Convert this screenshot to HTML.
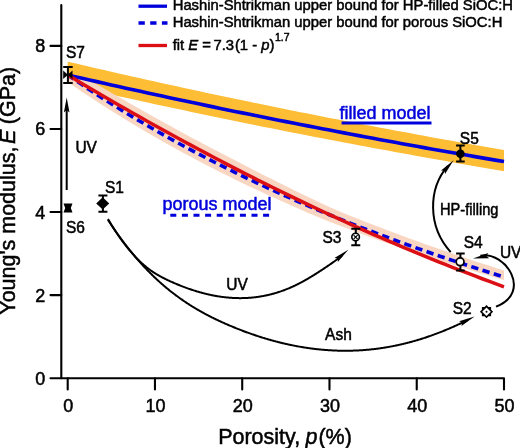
<!DOCTYPE html><html><head><meta charset="utf-8"><style>html,body{margin:0;padding:0;background:#fff;width:520px;height:448px;overflow:hidden}svg{display:block}text{font-family:"Liberation Sans",Arial,sans-serif;fill:#000;stroke:#000;stroke-width:0.5px;paint-order:stroke}</style></head><body>
<svg width="520" height="448" viewBox="0 0 520 448">
<path d="M67.70,61.66 L74.97,63.37 L82.24,65.07 L89.52,66.76 L96.79,68.44 L104.06,70.12 L111.33,71.78 L118.60,73.44 L125.87,75.09 L133.15,76.72 L140.42,78.35 L147.69,79.97 L154.96,81.59 L162.23,83.19 L169.50,84.79 L176.78,86.37 L184.05,87.95 L191.32,89.52 L198.59,91.08 L205.86,92.64 L213.13,94.18 L220.41,95.72 L227.68,97.25 L234.95,98.78 L242.22,100.29 L249.49,101.80 L256.76,103.30 L264.04,104.79 L271.31,106.27 L278.58,107.75 L285.85,109.22 L293.12,110.68 L300.39,112.13 L307.67,113.58 L314.94,115.02 L322.21,116.45 L329.48,117.88 L336.75,119.30 L344.02,120.71 L351.30,122.12 L358.57,123.51 L365.84,124.91 L373.11,126.29 L380.38,127.67 L387.65,129.04 L394.93,130.40 L402.20,131.76 L409.47,133.11 L416.74,134.46 L424.01,135.79 L431.28,137.13 L438.56,138.45 L445.83,139.77 L453.10,141.08 L460.37,142.39 L467.64,143.69 L474.91,144.99 L482.19,146.28 L489.46,147.56 L496.73,148.83 L504.00,150.10 L504.00,171.20 L496.73,169.96 L489.46,168.72 L482.19,167.47 L474.91,166.21 L467.64,164.94 L460.37,163.67 L453.10,162.39 L445.83,161.11 L438.56,159.82 L431.28,158.53 L424.01,157.22 L416.74,155.92 L409.47,154.60 L402.20,153.28 L394.93,151.95 L387.65,150.62 L380.38,149.28 L373.11,147.93 L365.84,146.58 L358.57,145.21 L351.30,143.85 L344.02,142.47 L336.75,141.09 L329.48,139.70 L322.21,138.30 L314.94,136.90 L307.67,135.49 L300.39,134.07 L293.12,132.65 L285.85,131.22 L278.58,129.78 L271.31,128.33 L264.04,126.88 L256.76,125.42 L249.49,123.95 L242.22,122.47 L234.95,120.99 L227.68,119.49 L220.41,117.99 L213.13,116.48 L205.86,114.97 L198.59,113.44 L191.32,111.91 L184.05,110.37 L176.78,108.82 L169.50,107.27 L162.23,105.70 L154.96,104.13 L147.69,102.54 L140.42,100.95 L133.15,99.35 L125.87,97.75 L118.60,96.13 L111.33,94.50 L104.06,92.33 L96.79,89.36 L89.52,86.37 L82.24,83.38 L74.97,80.37 L67.70,77.36Z" fill="#FDBD34"/>
<path d="M67.70,76.46 L74.97,78.14 L82.24,79.81 L89.52,81.47 L96.79,84.23 L104.06,88.48 L111.33,92.71 L118.60,96.91 L125.87,101.08 L133.15,105.22 L140.42,109.34 L147.69,113.42 L154.96,117.49 L162.23,121.52 L169.50,125.53 L176.78,129.51 L184.05,133.46 L191.32,137.38 L198.59,141.28 L205.86,145.15 L213.13,148.99 L220.41,152.80 L227.68,156.59 L234.95,160.34 L242.22,164.07 L249.49,167.82 L256.76,171.53 L264.04,175.21 L271.31,178.87 L278.58,182.50 L285.85,186.10 L293.12,189.67 L300.39,193.21 L307.67,196.73 L314.94,200.21 L322.21,203.66 L329.48,207.09 L336.75,210.29 L344.02,213.26 L351.30,216.20 L358.57,219.10 L365.84,221.97 L373.11,224.80 L380.38,227.60 L387.65,230.36 L394.93,233.10 L402.20,235.80 L409.47,238.46 L416.74,241.10 L424.01,243.70 L431.28,246.28 L438.56,248.83 L445.83,251.34 L453.10,253.83 L460.37,256.29 L467.64,258.73 L474.91,261.13 L482.19,263.51 L489.46,265.86 L496.73,268.19 L504.00,270.49 L504.00,279.99 L496.73,277.90 L489.46,275.78 L482.19,273.64 L474.91,271.46 L467.64,269.27 L460.37,267.04 L453.10,264.79 L445.83,262.51 L438.56,260.20 L431.28,257.86 L424.01,255.50 L416.74,253.10 L409.47,250.67 L402.20,248.21 L394.93,245.72 L387.65,243.20 L380.38,240.64 L373.11,238.05 L365.84,235.43 L358.57,232.77 L351.30,230.08 L344.02,227.35 L336.75,224.58 L329.48,221.77 L322.21,218.76 L314.94,215.72 L307.67,212.63 L300.39,209.50 L293.12,206.33 L285.85,203.12 L278.58,199.86 L271.31,196.56 L264.04,193.22 L256.76,189.83 L249.49,186.39 L242.22,182.91 L234.95,179.38 L227.68,175.80 L220.41,172.17 L213.13,168.48 L205.86,164.75 L198.59,160.95 L191.32,157.11 L184.05,153.21 L176.78,149.25 L169.50,145.23 L162.23,141.15 L154.96,137.01 L147.69,132.80 L140.42,128.54 L133.15,124.20 L125.87,119.80 L118.60,115.33 L111.33,110.79 L104.06,106.18 L96.79,101.49 L89.52,96.72 L82.24,91.88 L74.97,86.96 L67.70,81.96Z" fill="#F9D6C2"/>
<path d="M67.70,74.96 L74.97,76.64 L82.24,78.31 L89.52,79.97 L96.79,81.62 L104.06,83.27 L111.33,84.90 L118.60,86.53 L125.87,88.15 L133.15,89.75 L140.42,91.35 L147.69,92.94 L154.96,94.53 L162.23,96.10 L169.50,97.67 L176.78,99.22 L184.05,100.77 L191.32,102.31 L198.59,103.84 L205.86,105.37 L213.13,106.88 L220.41,108.39 L227.68,109.89 L234.95,111.39 L242.22,112.87 L249.49,114.35 L256.76,115.82 L264.04,117.28 L271.31,118.73 L278.58,120.18 L285.85,121.62 L293.12,123.05 L300.39,124.47 L307.67,125.89 L314.94,127.30 L322.21,128.70 L329.48,130.10 L336.75,131.49 L344.02,132.87 L351.30,134.25 L358.57,135.61 L365.84,136.98 L373.11,138.33 L380.38,139.68 L387.65,141.02 L394.93,142.35 L402.20,143.68 L409.47,145.00 L416.74,146.32 L424.01,147.62 L431.28,148.93 L438.56,150.22 L445.83,151.51 L453.10,152.79 L460.37,154.07 L467.64,155.34 L474.91,156.61 L482.19,157.87 L489.46,159.12 L496.73,160.36 L504.00,161.60" fill="none" stroke="#0000DC" stroke-width="3.6"/>
<path d="M67.70,74.96 L74.97,79.96 L82.24,84.88 L89.52,89.72 L96.79,94.49 L104.06,99.18 L111.33,103.79 L118.60,108.33 L125.87,112.80 L133.15,117.20 L140.42,121.54 L147.69,125.80 L154.96,130.01 L162.23,134.15 L169.50,138.23 L176.78,142.25 L184.05,146.21 L191.32,150.11 L198.59,153.95 L205.86,157.75 L213.13,161.48 L220.41,165.17 L227.68,168.80 L234.95,172.38 L242.22,175.91 L249.49,179.39 L256.76,182.83 L264.04,186.22 L271.31,189.56 L278.58,192.86 L285.85,196.12 L293.12,199.33 L300.39,202.50 L307.67,205.63 L314.94,208.72 L322.21,211.76 L329.48,214.77 L336.75,217.74 L344.02,220.68 L351.30,223.58 L358.57,226.44 L365.84,229.26 L373.11,232.05 L380.38,234.81 L387.65,237.53 L394.93,240.22 L402.20,242.88 L409.47,245.50 L416.74,248.10 L424.01,250.66 L431.28,253.20 L438.56,255.70 L445.83,258.18 L453.10,260.62 L460.37,263.04 L467.64,265.43 L474.91,267.80 L482.19,270.14 L489.46,272.45 L496.73,274.73 L504.00,276.99" fill="none" stroke="#0000DC" stroke-width="3.6" stroke-dasharray="7.3 4.5"/>
<path d="M67.70,74.96 L74.97,79.32 L82.24,83.65 L89.52,87.95 L96.79,92.23 L104.06,96.48 L111.33,100.71 L118.60,104.91 L125.87,109.08 L133.15,113.22 L140.42,117.34 L147.69,121.42 L154.96,125.49 L162.23,129.52 L169.50,133.53 L176.78,137.51 L184.05,141.46 L191.32,145.38 L198.59,149.28 L205.86,153.15 L213.13,156.99 L220.41,160.80 L227.68,164.59 L234.95,168.34 L242.22,172.07 L249.49,175.77 L256.76,179.45 L264.04,183.09 L271.31,186.70 L278.58,190.29 L285.85,193.85 L293.12,197.38 L300.39,200.88 L307.67,204.35 L314.94,207.79 L322.21,211.21 L329.48,214.59 L336.75,217.95 L344.02,221.27 L351.30,224.57 L358.57,227.83 L365.84,231.07 L373.11,234.28 L380.38,237.45 L387.65,240.60 L394.93,243.72 L402.20,246.81 L409.47,249.86 L416.74,252.89 L424.01,255.88 L431.28,258.85 L438.56,261.78 L445.83,264.69 L453.10,267.56 L460.37,270.40 L467.64,273.21 L474.91,275.99 L482.19,278.74 L489.46,281.45 L496.73,284.14 L504.00,286.79" fill="none" stroke="#DC0F14" stroke-width="3.5"/>
<g stroke="#000" stroke-width="2.1" fill="none" stroke-linecap="round" stroke-linejoin="round">
<path d="M61.3,5 V378.2 H504 V389.5"/>
<path d="M50.5,378.20 H61.3"/>
<path d="M50.5,295.12 H61.3"/>
<path d="M50.5,212.04 H61.3"/>
<path d="M50.5,128.96 H61.3"/>
<path d="M50.5,45.88 H61.3"/>
<path d="M67.70,378.2 V389.5"/>
<path d="M154.96,378.2 V389.5"/>
<path d="M242.22,378.2 V389.5"/>
<path d="M329.48,378.2 V389.5"/>
<path d="M416.74,378.2 V389.5"/>
</g>
<text transform="translate(45.30,384.70) scale(1,1.045)" font-size="18" text-anchor="end">0</text>
<text transform="translate(45.30,301.62) scale(1,1.045)" font-size="18" text-anchor="end">2</text>
<text transform="translate(45.30,218.54) scale(1,1.045)" font-size="18" text-anchor="end">4</text>
<text transform="translate(45.30,135.46) scale(1,1.045)" font-size="18" text-anchor="end">6</text>
<text transform="translate(45.30,52.38) scale(1,1.045)" font-size="18" text-anchor="end">8</text>
<text transform="translate(68.20,411.50) scale(1,1.045)" font-size="18" text-anchor="middle">0</text>
<text transform="translate(155.46,411.50) scale(1,1.045)" font-size="18" text-anchor="middle">10</text>
<text transform="translate(242.72,411.50) scale(1,1.045)" font-size="18" text-anchor="middle">20</text>
<text transform="translate(329.98,411.50) scale(1,1.045)" font-size="18" text-anchor="middle">30</text>
<text transform="translate(417.24,411.50) scale(1,1.045)" font-size="18" text-anchor="middle">40</text>
<text transform="translate(504.50,411.50) scale(1,1.045)" font-size="18" text-anchor="middle">50</text>
<text font-size="21.5" transform="translate(0,443.5) scale(1,1.045)"><tspan x="218.2">Porosity,</tspan><tspan x="305.4" font-style="italic">p</tspan><tspan x="318.4">(%)</tspan></text>
<text font-size="21.5" transform="translate(15.3,313.7) rotate(-90) scale(1,1.045)"><tspan x="-1">Young's modulus,</tspan><tspan x="169.7" font-style="italic">E</tspan><tspan x="189.5">(GPa)</tspan></text>
<path d="M138.5,6.2 H167" stroke="#0000DC" stroke-width="3.3"/>
<path d="M138.5,23 H167.5" stroke="#0000DC" stroke-width="3.4" stroke-dasharray="6.3 5.4"/>
<path d="M138.5,45.5 H167" stroke="#DC0F14" stroke-width="3.3"/>
<text transform="translate(172.70,10.30) scale(1,1.045)" font-size="14.8">Hashin-Shtrikman upper bound for HP-filled SiOC:H</text>
<text transform="translate(172.70,27.30) scale(1,1.045)" font-size="14.8">Hashin-Shtrikman upper bound for porous SiOC:H</text>
<text transform="translate(172.7,49.8) scale(1,1.045)" font-size="14.8">fit <tspan font-style="italic">E</tspan> = <tspan dx="-1.6">7.3</tspan><tspan dx="0.9">(1 - </tspan><tspan font-style="italic">p</tspan>)</text>
<text transform="translate(275.00,40.50) scale(1,1.045)" font-size="10.5">1.7</text>
<text transform="translate(339.50,118.60) scale(1,1.045)" font-size="18" style="fill:#0000DC;stroke:#0000DC">filled model</text>
<path d="M341.6,123 H431.5" stroke="#0000DC" stroke-width="2.8"/>
<text transform="translate(162.60,210.00) scale(1,1.045)" font-size="18" style="fill:#0000DC;stroke:#0000DC">porous model</text>
<path d="M170.3,215.3 H272" stroke="#0000DC" stroke-width="2.9" stroke-dasharray="6 5.6"/>
<path d="M108.00,218.98 L108.67,220.15 L109.34,221.30 L110.01,222.43 L110.68,223.56 L111.35,224.66 L112.02,225.76 L112.69,226.84 L113.35,227.91 L114.02,228.97 L114.69,230.01 L115.36,231.04 L116.03,232.06 L116.70,233.06 L117.37,234.06 L118.04,235.04 L118.71,236.01 L119.38,236.97 L120.05,237.91 L120.72,238.85 L121.39,239.77 L122.06,240.69 L122.73,241.59 L123.40,242.48 L124.06,243.36 L124.73,244.23 L125.40,245.10 L126.07,245.95 L126.74,246.79 L127.41,247.62 L128.08,248.45 L128.75,249.26 L129.42,250.06 L130.09,250.86 L130.76,251.65 L131.43,252.42 L132.10,253.19 L132.77,253.95 L133.44,254.70 L134.11,255.44 L134.77,256.17 L135.44,256.88 L136.11,257.59 L136.78,258.29 L137.45,258.98 L138.12,259.66 L138.79,260.32 L139.46,260.98 L140.13,261.62 L140.80,262.26 L141.47,262.88 L142.14,263.49 L142.81,264.10 L143.48,264.69 L144.15,265.27 L144.81,265.83 L145.48,266.39 L146.15,266.94 L146.82,267.47 L147.49,268.00 L148.16,268.51 L148.83,269.02 L149.50,269.52 L150.17,270.00 L150.84,270.48 L151.51,270.95 L152.18,271.41 L152.85,271.86 L153.52,272.30 L154.19,272.74 L154.86,273.17 L155.52,273.59 L156.19,274.00 L156.86,274.40 L157.53,274.80 L158.20,275.19 L158.87,275.58 L159.54,275.96 L160.21,276.33 L160.88,276.69 L161.55,277.05 L162.22,277.41 L162.89,277.76 L163.56,278.10 L164.23,278.44 L164.90,278.77 L165.56,279.10 L166.23,279.43 L166.90,279.75 L167.57,280.07 L168.24,280.38 L168.91,280.69 L169.58,281.00 L170.25,281.30 L170.92,281.60 L171.59,281.90 L172.26,282.20 L172.93,282.49 L173.60,282.78 L174.27,283.07 L174.94,283.36 L175.61,283.64 L176.27,283.93 L176.94,284.21 L177.61,284.48 L178.28,284.76 L178.95,285.03 L179.62,285.30 L180.29,285.57 L180.96,285.83 L181.63,286.10 L182.30,286.36 L182.97,286.61 L183.64,286.87 L184.31,287.12 L184.98,287.37 L185.65,287.62 L186.32,287.86 L186.98,288.10 L187.65,288.34 L188.32,288.58 L188.99,288.82 L189.66,289.05 L190.33,289.28 L191.00,289.50 L191.67,289.73 L192.34,289.95 L193.01,290.17 L193.68,290.38 L194.35,290.60 L195.02,290.81 L195.69,291.01 L196.36,291.22 L197.02,291.42 L197.69,291.62 L198.36,291.82 L199.03,292.01 L199.70,292.20 L200.37,292.39 L201.04,292.58 L201.71,292.76 L202.38,292.94 L203.05,293.12 L203.72,293.29 L204.39,293.46 L205.06,293.63 L205.73,293.79 L206.40,293.96 L207.07,294.12 L207.73,294.27 L208.40,294.43 L209.07,294.58 L209.74,294.73 L210.41,294.87 L211.08,295.01 L211.75,295.15 L212.42,295.29 L213.09,295.42 L213.76,295.55 L214.43,295.68 L215.10,295.80 L215.77,295.92 L216.44,296.04 L217.11,296.15 L217.77,296.26 L218.44,296.37 L219.11,296.48 L219.78,296.58 L220.45,296.68 L221.12,296.77 L221.79,296.87 L222.46,296.95 L223.13,297.04 L223.80,297.12 L224.47,297.20 L225.14,297.28 L225.81,297.35 L226.48,297.42 L227.15,297.49 L227.82,297.55 L228.48,297.61 L229.15,297.67 L229.82,297.73 L230.49,297.78 L231.16,297.82 L231.83,297.87 L232.50,297.91 L233.17,297.94 L233.84,297.98 L234.51,298.01 L235.18,298.04 L235.85,298.06 L236.52,298.08 L237.19,298.10 L237.86,298.11 L238.53,298.12 L239.19,298.13 L239.86,298.13 L240.53,298.13 L241.20,298.13 L241.87,298.12 L242.54,298.11 L243.21,298.09 L243.88,298.08 L244.55,298.05 L245.22,298.03 L245.89,298.00 L246.56,297.97 L247.23,297.93 L247.90,297.90 L248.57,297.85 L249.23,297.81 L249.90,297.76 L250.57,297.70 L251.24,297.65 L251.91,297.59 L252.58,297.52 L253.25,297.45 L253.92,297.38 L254.59,297.31 L255.26,297.23 L255.93,297.14 L256.60,297.06 L257.27,296.97 L257.94,296.87 L258.61,296.78 L259.28,296.68 L259.94,296.57 L260.61,296.46 L261.28,296.35 L261.95,296.23 L262.62,296.11 L263.29,295.99 L263.96,295.86 L264.63,295.73 L265.30,295.59 L265.97,295.45 L266.64,295.31 L267.31,295.16 L267.98,295.01 L268.65,294.86 L269.32,294.70 L269.98,294.53 L270.65,294.37 L271.32,294.20 L271.99,294.02 L272.66,293.84 L273.33,293.66 L274.00,293.47 L274.67,293.28 L275.34,293.09 L276.01,292.89 L276.68,292.69 L277.35,292.48 L278.02,292.27 L278.69,292.05 L279.36,291.84 L280.03,291.61 L280.69,291.39 L281.36,291.15 L282.03,290.92 L282.70,290.68 L283.37,290.44 L284.04,290.19 L284.71,289.94 L285.38,289.68 L286.05,289.42 L286.72,289.16 L287.39,288.89 L288.06,288.61 L288.73,288.34 L289.40,288.06 L290.07,287.77 L290.74,287.48 L291.40,287.19 L292.07,286.89 L292.74,286.59 L293.41,286.28 L294.08,285.97 L294.75,285.65 L295.42,285.33 L296.09,285.01 L296.76,284.68 L297.43,284.35 L298.10,284.01 L298.77,283.67 L299.44,283.33 L300.11,282.98 L300.78,282.63 L301.44,282.27 L302.11,281.91 L302.78,281.55 L303.45,281.18 L304.12,280.81 L304.79,280.44 L305.46,280.06 L306.13,279.68 L306.80,279.29 L307.47,278.91 L308.14,278.52 L308.81,278.12 L309.48,277.73 L310.15,277.33 L310.82,276.93 L311.49,276.52 L312.15,276.11 L312.82,275.70 L313.49,275.29 L314.16,274.88 L314.83,274.46 L315.50,274.04 L316.17,273.61 L316.84,273.19 L317.51,272.76 L318.18,272.33 L318.85,271.90 L319.52,271.46 L320.19,271.03 L320.86,270.59 L321.53,270.15 L322.19,269.71 L322.86,269.26 L323.53,268.82 L324.20,268.37 L324.87,267.92 L325.54,267.47 L326.21,267.02 L326.88,266.57 L327.55,266.11 L328.22,265.66 L328.89,265.20 L329.56,264.74 L330.23,264.28 L330.90,263.82 L331.57,263.36 L332.24,262.89 L332.90,262.42 L333.57,261.94 L334.24,261.47 L334.91,260.98 L335.58,260.50 L336.25,260.00 L336.92,259.50 L337.59,259.00 L338.26,258.49 L338.93,257.96 L339.60,257.44 L340.27,256.90 L340.94,256.36 L341.61,255.80 L342.28,255.24" fill="none" stroke="#000" stroke-width="2" stroke-linejoin="round"/><path d="M348.30,249.64 L337.85,262.05 L337.80,258.60 L334.41,258.01Z" fill="#000"/>
<path d="M108.00,219.83 L108.67,220.86 L109.34,221.89 L110.01,222.91 L110.68,223.93 L111.34,224.94 L112.01,225.94 L112.68,226.93 L113.35,227.92 L114.02,228.90 L114.69,229.88 L115.36,230.84 L116.03,231.81 L116.70,232.76 L117.37,233.71 L118.03,234.65 L118.70,235.59 L119.37,236.52 L120.04,237.44 L120.71,238.36 L121.38,239.27 L122.05,240.18 L122.72,241.08 L123.39,241.97 L124.06,242.86 L124.72,243.74 L125.39,244.61 L126.06,245.48 L126.73,246.34 L127.40,247.20 L128.07,248.05 L128.74,248.90 L129.41,249.74 L130.08,250.57 L130.75,251.40 L131.41,252.22 L132.08,253.03 L132.75,253.84 L133.42,254.65 L134.09,255.45 L134.76,256.24 L135.43,257.03 L136.10,257.81 L136.77,258.58 L137.44,259.35 L138.10,260.12 L138.77,260.88 L139.44,261.63 L140.11,262.38 L140.78,263.13 L141.45,263.86 L142.12,264.60 L142.79,265.32 L143.46,266.05 L144.12,266.76 L144.79,267.48 L145.46,268.18 L146.13,268.88 L146.80,269.58 L147.47,270.27 L148.14,270.96 L148.81,271.64 L149.48,272.31 L150.15,272.98 L150.81,273.65 L151.48,274.31 L152.15,274.97 L152.82,275.62 L153.49,276.27 L154.16,276.91 L154.83,277.54 L155.50,278.18 L156.17,278.80 L156.84,279.43 L157.50,280.05 L158.17,280.66 L158.84,281.27 L159.51,281.87 L160.18,282.47 L160.85,283.07 L161.52,283.66 L162.19,284.24 L162.86,284.83 L163.53,285.40 L164.19,285.98 L164.86,286.55 L165.53,287.11 L166.20,287.67 L166.87,288.23 L167.54,288.78 L168.21,289.32 L168.88,289.87 L169.55,290.41 L170.21,290.94 L170.88,291.47 L171.55,292.00 L172.22,292.52 L172.89,293.04 L173.56,293.56 L174.23,294.07 L174.90,294.57 L175.57,295.08 L176.24,295.58 L176.90,296.07 L177.57,296.56 L178.24,297.05 L178.91,297.54 L179.58,298.02 L180.25,298.49 L180.92,298.97 L181.59,299.44 L182.26,299.90 L182.93,300.36 L183.59,300.82 L184.26,301.28 L184.93,301.73 L185.60,302.18 L186.27,302.62 L186.94,303.06 L187.61,303.50 L188.28,303.94 L188.95,304.37 L189.62,304.80 L190.28,305.22 L190.95,305.64 L191.62,306.06 L192.29,306.48 L192.96,306.89 L193.63,307.30 L194.30,307.70 L194.97,308.11 L195.64,308.51 L196.31,308.90 L196.97,309.30 L197.64,309.69 L198.31,310.08 L198.98,310.46 L199.65,310.84 L200.32,311.22 L200.99,311.60 L201.66,311.98 L202.33,312.35 L202.99,312.72 L203.66,313.08 L204.33,313.45 L205.00,313.81 L205.67,314.16 L206.34,314.52 L207.01,314.87 L207.68,315.22 L208.35,315.57 L209.02,315.92 L209.68,316.26 L210.35,316.60 L211.02,316.94 L211.69,317.28 L212.36,317.61 L213.03,317.94 L213.70,318.27 L214.37,318.60 L215.04,318.92 L215.71,319.25 L216.37,319.57 L217.04,319.89 L217.71,320.20 L218.38,320.52 L219.05,320.83 L219.72,321.14 L220.39,321.45 L221.06,321.75 L221.73,322.06 L222.40,322.36 L223.06,322.66 L223.73,322.96 L224.40,323.26 L225.07,323.56 L225.74,323.85 L226.41,324.14 L227.08,324.43 L227.75,324.72 L228.42,325.01 L229.09,325.30 L229.75,325.58 L230.42,325.86 L231.09,326.14 L231.76,326.42 L232.43,326.70 L233.10,326.98 L233.77,327.25 L234.44,327.53 L235.11,327.80 L235.77,328.07 L236.44,328.34 L237.11,328.61 L237.78,328.87 L238.45,329.14 L239.12,329.40 L239.79,329.66 L240.46,329.92 L241.13,330.18 L241.80,330.44 L242.46,330.69 L243.13,330.95 L243.80,331.20 L244.47,331.45 L245.14,331.70 L245.81,331.95 L246.48,332.19 L247.15,332.44 L247.82,332.68 L248.49,332.92 L249.15,333.16 L249.82,333.40 L250.49,333.64 L251.16,333.87 L251.83,334.11 L252.50,334.34 L253.17,334.57 L253.84,334.80 L254.51,335.03 L255.18,335.25 L255.84,335.48 L256.51,335.70 L257.18,335.92 L257.85,336.14 L258.52,336.36 L259.19,336.58 L259.86,336.79 L260.53,337.01 L261.20,337.22 L261.86,337.43 L262.53,337.64 L263.20,337.84 L263.87,338.05 L264.54,338.25 L265.21,338.46 L265.88,338.66 L266.55,338.86 L267.22,339.05 L267.89,339.25 L268.55,339.44 L269.22,339.64 L269.89,339.83 L270.56,340.02 L271.23,340.21 L271.90,340.39 L272.57,340.58 L273.24,340.76 L273.91,340.94 L274.58,341.12 L275.24,341.30 L275.91,341.48 L276.58,341.65 L277.25,341.83 L277.92,342.00 L278.59,342.17 L279.26,342.34 L279.93,342.50 L280.60,342.67 L281.27,342.83 L281.93,342.99 L282.60,343.16 L283.27,343.31 L283.94,343.47 L284.61,343.63 L285.28,343.78 L285.95,343.93 L286.62,344.08 L287.29,344.23 L287.96,344.38 L288.62,344.53 L289.29,344.67 L289.96,344.81 L290.63,344.95 L291.30,345.09 L291.97,345.23 L292.64,345.37 L293.31,345.50 L293.98,345.63 L294.64,345.76 L295.31,345.89 L295.98,346.02 L296.65,346.15 L297.32,346.27 L297.99,346.39 L298.66,346.52 L299.33,346.63 L300.00,346.75 L300.67,346.87 L301.33,346.98 L302.00,347.09 L302.67,347.21 L303.34,347.32 L304.01,347.42 L304.68,347.53 L305.35,347.63 L306.02,347.74 L306.69,347.84 L307.36,347.94 L308.02,348.03 L308.69,348.13 L309.36,348.22 L310.03,348.32 L310.70,348.41 L311.37,348.49 L312.04,348.58 L312.71,348.67 L313.38,348.75 L314.05,348.83 L314.71,348.91 L315.38,348.99 L316.05,349.07 L316.72,349.15 L317.39,349.22 L318.06,349.29 L318.73,349.36 L319.40,349.43 L320.07,349.50 L320.74,349.56 L321.40,349.63 L322.07,349.69 L322.74,349.75 L323.41,349.80 L324.08,349.86 L324.75,349.92 L325.42,349.97 L326.09,350.02 L326.76,350.07 L327.42,350.12 L328.09,350.16 L328.76,350.21 L329.43,350.25 L330.10,350.29 L330.77,350.33 L331.44,350.37 L332.11,350.40 L332.78,350.44 L333.45,350.47 L334.11,350.50 L334.78,350.53 L335.45,350.56 L336.12,350.58 L336.79,350.60 L337.46,350.63 L338.13,350.65 L338.80,350.66 L339.47,350.68 L340.14,350.69 L340.80,350.71 L341.47,350.72 L342.14,350.73 L342.81,350.73 L343.48,350.74 L344.15,350.74 L344.82,350.75 L345.49,350.75 L346.16,350.75 L346.83,350.74 L347.49,350.74 L348.16,350.73 L348.83,350.72 L349.50,350.71 L350.17,350.70 L350.84,350.69 L351.51,350.67 L352.18,350.65 L352.85,350.63 L353.51,350.61 L354.18,350.59 L354.85,350.56 L355.52,350.54 L356.19,350.51 L356.86,350.48 L357.53,350.45 L358.20,350.41 L358.87,350.38 L359.54,350.34 L360.20,350.30 L360.87,350.26 L361.54,350.22 L362.21,350.17 L362.88,350.13 L363.55,350.08 L364.22,350.03 L364.89,349.98 L365.56,349.92 L366.23,349.87 L366.89,349.81 L367.56,349.75 L368.23,349.69 L368.90,349.63 L369.57,349.56 L370.24,349.50 L370.91,349.43 L371.58,349.36 L372.25,349.29 L372.92,349.21 L373.58,349.14 L374.25,349.06 L374.92,348.98 L375.59,348.90 L376.26,348.81 L376.93,348.73 L377.60,348.64 L378.27,348.55 L378.94,348.46 L379.61,348.37 L380.27,348.28 L380.94,348.18 L381.61,348.08 L382.28,347.98 L382.95,347.88 L383.62,347.78 L384.29,347.67 L384.96,347.56 L385.63,347.46 L386.29,347.34 L386.96,347.23 L387.63,347.12 L388.30,347.00 L388.97,346.88 L389.64,346.76 L390.31,346.64 L390.98,346.51 L391.65,346.39 L392.32,346.26 L392.98,346.13 L393.65,346.00 L394.32,345.86 L394.99,345.73 L395.66,345.59 L396.33,345.45 L397.00,345.31 L397.67,345.17 L398.34,345.02 L399.01,344.88 L399.67,344.73 L400.34,344.58 L401.01,344.42 L401.68,344.27 L402.35,344.11 L403.02,343.95 L403.69,343.79 L404.36,343.63 L405.03,343.47 L405.70,343.30 L406.36,343.13 L407.03,342.96 L407.70,342.79 L408.37,342.62 L409.04,342.44 L409.71,342.27 L410.38,342.09 L411.05,341.91 L411.72,341.72 L412.39,341.54 L413.05,341.35 L413.72,341.16 L414.39,340.97 L415.06,340.78 L415.73,340.59 L416.40,340.39 L417.07,340.19 L417.74,339.99 L418.41,339.79 L419.07,339.59 L419.74,339.38 L420.41,339.18 L421.08,338.97 L421.75,338.76 L422.42,338.54 L423.09,338.33 L423.76,338.11 L424.43,337.90 L425.10,337.68 L425.76,337.45 L426.43,337.23 L427.10,337.01 L427.77,336.78 L428.44,336.55 L429.11,336.32 L429.78,336.09 L430.45,335.85 L431.12,335.62 L431.79,335.38 L432.45,335.14 L433.12,334.90 L433.79,334.65 L434.46,334.41 L435.13,334.16 L435.80,333.91 L436.47,333.66 L437.14,333.41 L437.81,333.16 L438.48,332.90 L439.14,332.64 L439.81,332.38 L440.48,332.12 L441.15,331.86 L441.82,331.59 L442.49,331.33 L443.16,331.06 L443.83,330.79 L444.50,330.52 L445.16,330.24 L445.83,329.97 L446.50,329.69 L447.17,329.41 L447.84,329.13 L448.51,328.85 L449.18,328.56 L449.85,328.28 L450.52,327.99 L451.19,327.70 L451.85,327.41 L452.52,327.12 L453.19,326.82 L453.86,326.53 L454.53,326.23 L455.20,325.93 L455.87,325.63 L456.54,325.32 L457.21,325.02 L457.88,324.71 L458.54,324.40 L459.21,324.09 L459.88,323.78 L460.55,323.47 L461.22,323.15 L461.89,322.84 L462.56,322.52 L463.23,322.20 L463.90,321.88 L464.57,321.55 L465.23,321.23 L465.90,320.90 L466.57,320.57 L467.24,320.24" fill="none" stroke="#000" stroke-width="2" stroke-linejoin="round"/><path d="M474.60,316.49 L461.44,325.97 L462.23,322.62 L459.09,321.22Z" fill="#000"/>
<path d="M66.7,190 V105" fill="none" stroke="#000" stroke-width="2"/>
<path d="M66.70,97.40 L69.50,112.40 L66.70,109.90 L63.90,112.40Z" fill="#000"/>
<path d="M450.70,252.10 C427.21,226.34 428.18,188.45 447.88,165.94" fill="none" stroke="#000" stroke-width="2"/><path d="M453.60,160.30 L445.05,174.08 L444.50,170.68 L441.06,170.59Z" fill="#000"/>
<path d="M496.00,306.60 C532.52,292.80 505.78,250.92 480.38,255.71" fill="none" stroke="#000" stroke-width="2"/><path d="M472.90,258.60 L488.16,253.10 L486.47,256.11 L489.12,258.31Z" fill="#000"/>
<path d="M67.9,67.0 V83.0 M63.2,67.0 H72.7 M63.2,83.0 H72.7" stroke="#000" stroke-width="2" fill="none"/>
<path d="M63.2,70.5 L72.5,79 L72.5,70.5 L63.2,79Z" fill="#000"/>
<path d="M63.5,203.5 H72.5 L70.8,208 L72.5,212.5 H63.5 L65.2,208Z" fill="#000"/>
<path d="M102.9,195.6 V211.7 M98.4,195.6 H107.4 M98.4,211.7 H107.4" stroke="#000" stroke-width="2" fill="none"/>
<path d="M102.7,197.2 L109.2,203.4 L102.7,209.6 L96.2,203.4Z" fill="#000"/>
<path d="M355.8,228.7 V245.2 M351.3,228.7 H360.3 M351.3,245.2 H360.3" stroke="#000" stroke-width="2" fill="none"/>
<circle cx="355.6" cy="237.1" r="3.8" fill="#fff" stroke="#000" stroke-width="1.6"/>
<path d="M353.6,235.1 L357.6,239.1 M357.6,235.1 L353.6,239.1" stroke="#000" stroke-width="1.2"/>
<path d="M460.4,253.4 V270.4 M456.1,253.4 H464.7 M456.1,270.4 H464.7" stroke="#000" stroke-width="2" fill="none"/>
<circle cx="460.1" cy="261.8" r="3.9" fill="#fff" stroke="#000" stroke-width="1.7"/>
<path d="M460.4,145.4 V161.6 M456.1,145.4 H464.7 M456.1,161.6 H464.7" stroke="#000" stroke-width="2" fill="none"/>
<circle cx="460.4" cy="153.8" r="4.3" fill="#000"/>
<path d="M481.9,307.09999999999997 H491.1 V316.3 H481.9Z M486.5,305.09999999999997 L493.1,311.7 L486.5,318.3 L479.9,311.7Z" fill="#000"/>
<path d="M486.5,307.4 L490.8,311.7 L486.5,316.0 L482.2,311.7Z" fill="#fff"/>
<circle cx="486.5" cy="311.7" r="1.0" fill="#000"/>
<text transform="translate(66.00,58.10) scale(1,1.045)" font-size="15.5">S7</text>
<text transform="translate(66.00,232.60) scale(1,1.045)" font-size="15.5">S6</text>
<text transform="translate(105.00,192.60) scale(1,1.045)" font-size="15.5">S1</text>
<text transform="translate(322.50,243.20) scale(1,1.045)" font-size="15.5">S3</text>
<text transform="translate(463.70,248.00) scale(1,1.045)" font-size="15.5">S4</text>
<text transform="translate(459.80,143.60) scale(1,1.045)" font-size="15.5">S5</text>
<text transform="translate(452.70,313.90) scale(1,1.045)" font-size="15.5">S2</text>
<text transform="translate(75.40,153.40) scale(1,1.045)" font-size="15.5">UV</text>
<text transform="translate(226.30,290.00) scale(1,1.045)" font-size="15.5">UV</text>
<text transform="translate(499.90,257.70) scale(1,1.045)" font-size="15.5">UV</text>
<text transform="translate(325.10,340.30) scale(1,1.045)" font-size="15.5">Ash</text>
<text transform="translate(440.00,215.10) scale(1,1.045)" font-size="15.5" textLength="58.5" lengthAdjust="spacingAndGlyphs">HP-filling</text>
</svg></body></html>
